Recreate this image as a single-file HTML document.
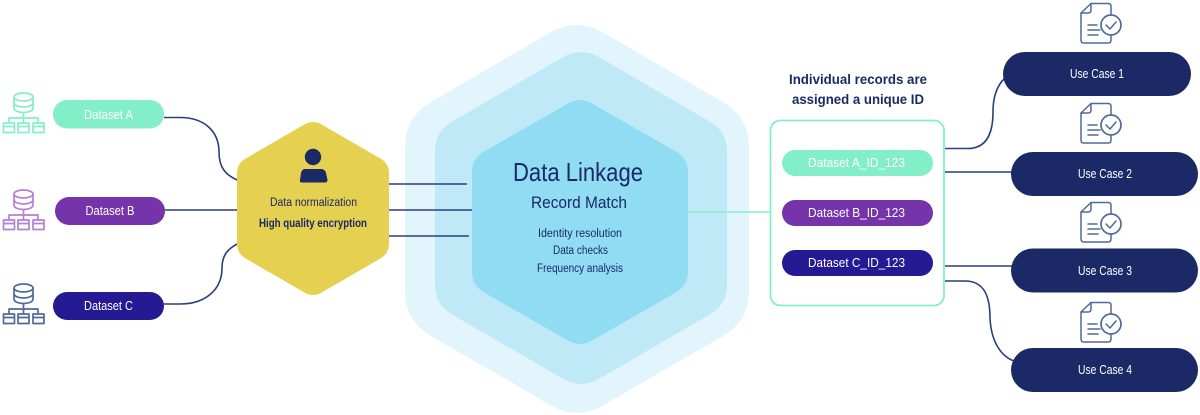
<!DOCTYPE html>
<html>
<head>
<meta charset="utf-8">
<style>
html,body{margin:0;padding:0;background:#fff;width:1200px;height:415px;overflow:hidden}
svg{display:block;filter:blur(0.35px)}
text{font-family:"Liberation Sans",sans-serif;text-anchor:start}
.w{fill:#fff}
.n{fill:#1b2a66}
.l{fill:none;stroke:#2b3f7c;stroke-width:1.6}
</style>
</head>
<body>
<svg width="1200" height="415" viewBox="0 0 1200 415" xmlns="http://www.w3.org/2000/svg">
<defs>
<g id="doc" fill="none" stroke-width="1.5" stroke-linejoin="round" stroke-linecap="round">
  <path d="M1111 15V6Q1111 3.500 1108 3.500H1091L1081 13V40Q1081 43 1084 43H1108Q1111 43 1111 40V36"/>
  <path d="M1091 3.500V10Q1091 13 1088 13H1081"/>
  <circle cx="1111" cy="25" r="10" stroke-width="1.700"/>
  <path d="M1106 25L1110 29L1116 22"/>
  <path d="M1088 25H1097M1088 30H1100M1088 35H1098"/>
</g>
<g id="db" fill="none" stroke-width="1.700" stroke-linejoin="round">
  <ellipse cx="23.500" cy="97" rx="9.500" ry="4"/>
  <path d="M14 97V108C14 111 19 112.500 23.500 112.500S33 111 33 108V97"/>
  <path d="M14 102.500C14 105.500 19 107 23.500 107S33 105.500 33 102.500"/>
  <path d="M23.500 112.500V118M9 123V118H38V123M23.500 118V123"/>
  <path d="M3.500 123H14.500V132.500H3.500ZM3.500 126.500H14.500"/>
  <path d="M18 123H29V132.500H18ZM18 126.500H29"/>
  <path d="M33 123H44V132.500H33ZM33 126.500H44"/>
</g>
</defs>

<!-- large hexagons -->
<path fill="#e3f5fc" d="M551 32Q577 17.500 603 32.500L723 102Q749 117 749 147V291Q749 321 723 336L603 405.500Q577 420.500 551 405.500L431 336Q405 321 405 291V147Q405 117 431 102Z"/>
<path fill="#c0e9f8" d="M563 57Q581 47 599 57L709 121Q727 131 727 151V285Q727 305 709 315L599 379Q581 389 563 379L453 315Q435 305 435 285V151Q435 131 453 121Z"/>
<path fill="#8fdcf3" d="M567.900 103.500Q580 96.500 592.100 103.500L675.900 151.500Q688 158.500 688 172.500V271.500Q688 285.500 675.900 292.500L592.100 340.500Q580 347.500 567.900 340.500L484.100 292.500Q472 285.500 472 271.500V172.500Q472 158.500 484.100 151.500Z"/>

<!-- connectors -->
<path class="l" d="M164 117.500H180C205 117.500 219 132 219 152C219 168 226 175 237 180"/>
<path class="l" d="M165 210H237"/>
<path class="l" d="M164 304H180C205 304 222 290 222 268C222 255 228 249 237 244"/>
<path class="l" d="M389 184H467M389 210H472M389 236H469"/>
<path fill="none" stroke="#83efc8" stroke-width="1.600" d="M688 212H770"/>
<path class="l" d="M945 148.500H968C986 148.500 993 134 993 112C993 96 997 86 1004 79"/>
<path class="l" d="M945 172H1012"/>
<path class="l" d="M945 266H1012"/>
<path class="l" d="M945 281H965C984 281 990 296 990 318C991 340 1000 356 1014 361"/>

<!-- yellow hexagon -->
<path fill="#e5d04f" d="M304.340 124.500Q313 119.500 321.660 124.500L380.340 158.500Q389 163.500 389 173.500V243.500Q389 253.500 380.340 258.500L321.660 292.500Q313 297.500 304.340 292.500L245.660 258.500Q237 253.500 237 243.500V173.500Q237 163.500 245.660 158.500Z"/>
<circle cx="313" cy="157" r="8.200" fill="#1b2a66"/>
<path fill="#1b2a66" d="M305 169H321Q325 169 326 173L327.500 180Q327.500 182.500 325 182.500H302Q299.500 182.500 300 180L301 173Q302 169 305 169Z"/>
<text x="270" y="206" font-size="11.500" class="n" textLength="87" lengthAdjust="spacingAndGlyphs">Data normalization</text>
<text x="259" y="227" font-size="11.500" font-weight="700" class="n" textLength="108" lengthAdjust="spacingAndGlyphs">High quality encryption</text>

<!-- left datasets -->
<use href="#db" stroke="#83efc8"/>
<use href="#db" stroke="#b57fd6" y="97"/>
<use href="#db" stroke="#4e6a9a" y="191"/>
<rect x="53" y="100" width="111" height="28.500" rx="14" fill="#83efc8"/>
<rect x="55" y="197" width="110" height="28" rx="14" fill="#7634ab"/>
<rect x="53" y="292" width="111" height="28" rx="14" fill="#251a94"/>
<text x="84" y="119" font-size="13" class="w" textLength="49" lengthAdjust="spacingAndGlyphs">Dataset A</text>
<text x="85.500" y="215" font-size="13" class="w" textLength="49" lengthAdjust="spacingAndGlyphs">Dataset B</text>
<text x="84" y="310" font-size="13" class="w" textLength="49" lengthAdjust="spacingAndGlyphs">Dataset C</text>

<!-- centre text -->
<text x="513" y="181" font-size="26" class="n" textLength="130" lengthAdjust="spacingAndGlyphs">Data Linkage</text>
<text x="531" y="208" font-size="16.500" class="n" textLength="96" lengthAdjust="spacingAndGlyphs">Record Match</text>
<text x="538" y="237" font-size="11.500" class="n" textLength="84" lengthAdjust="spacingAndGlyphs">Identity resolution</text>
<text x="553" y="254" font-size="11.500" class="n" textLength="55" lengthAdjust="spacingAndGlyphs">Data checks</text>
<text x="537" y="272" font-size="11.500" class="n" textLength="86" lengthAdjust="spacingAndGlyphs">Frequency analysis</text>

<!-- right box -->
<text x="789" y="84" font-size="14" font-weight="700" class="n" textLength="138" lengthAdjust="spacingAndGlyphs">Individual records are</text>
<text x="792" y="104" font-size="14" font-weight="700" class="n" textLength="132" lengthAdjust="spacingAndGlyphs">assigned a unique ID</text>
<rect x="770.500" y="120.500" width="173.500" height="185" rx="10" fill="#fff" stroke="#83efc8" stroke-width="1.800"/>
<rect x="782" y="150" width="151" height="26" rx="13" fill="#83efc8"/>
<rect x="782" y="200" width="151" height="26" rx="13" fill="#7634ab"/>
<rect x="782" y="250" width="151" height="26" rx="13" fill="#251a94"/>
<text x="808" y="167" font-size="12.500" class="w" textLength="97" lengthAdjust="spacingAndGlyphs">Dataset A_ID_123</text>
<text x="808" y="217" font-size="12.500" class="w" textLength="97" lengthAdjust="spacingAndGlyphs">Dataset B_ID_123</text>
<text x="808" y="267" font-size="12.500" class="w" textLength="97" lengthAdjust="spacingAndGlyphs">Dataset C_ID_123</text>

<!-- use cases -->
<use href="#doc" stroke="#4e6a9a"/>
<use href="#doc" stroke="#4e6a9a" y="100"/>
<use href="#doc" stroke="#4e6a9a" y="199"/>
<use href="#doc" stroke="#4e6a9a" y="299"/>
<rect x="1003" y="52" width="188" height="44" rx="22" fill="#1b2a66"/>
<rect x="1011" y="152" width="187" height="44" rx="22" fill="#1b2a66"/>
<rect x="1011" y="248.500" width="187" height="44" rx="22" fill="#1b2a66"/>
<rect x="1011" y="348" width="187" height="44" rx="22" fill="#1b2a66"/>
<text x="1070" y="78" font-size="13" class="w" textLength="54" lengthAdjust="spacingAndGlyphs">Use Case 1</text>
<text x="1078" y="178" font-size="13" class="w" textLength="54" lengthAdjust="spacingAndGlyphs">Use Case 2</text>
<text x="1078" y="275" font-size="13" class="w" textLength="54" lengthAdjust="spacingAndGlyphs">Use Case 3</text>
<text x="1078" y="374" font-size="13" class="w" textLength="54" lengthAdjust="spacingAndGlyphs">Use Case 4</text>
</svg>
</body>
</html>
